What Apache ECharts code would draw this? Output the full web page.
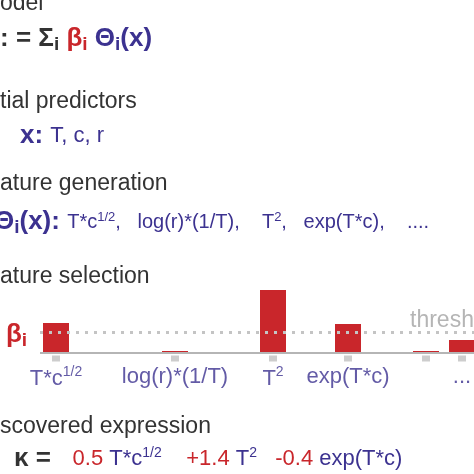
<!DOCTYPE html>
<html><head><meta charset="utf-8">
<script src="https://cdn.jsdelivr.net/npm/echarts@6/dist/echarts.min.js"></script>
<style>html,body{margin:0;padding:0;background:#fff}#c{width:474px;height:474px}</style>
</head><body><div id="c"></div>
<script>
const featureNames = ['T*c{s|1/2}', 'log(r)*(1/T)', 'T{s|2}', 'exp(T*c)', '', '...'];
const featurePos = [56, 175, 273, 348, 426, 462];
const coefValues = [30, 2, 63, 29, 2, 13];
const threshold = 21;

const RED = '#c9262b', PUR = '#3c3290', DARK = '#333333', GRAY = '#b5b5b5';
const chart = echarts.init(document.getElementById('c'));
const F = 'Liberation Sans, Arial, sans-serif';
function t(x, y, rich, text) {
  return {type: 'text', left: x, top: y, style: {text, rich, font: '23px ' + F, fill: DARK}};
}
const R = {
  h: {fontSize: 23, fill: DARK, fontFamily: F},
  b: {fontSize: 26, fontWeight: 'bold', fill: DARK, fontFamily: F},
  bi: {fontSize: 19, fontWeight: 'bold', fill: DARK, fontFamily: F, padding: [12, 0, 0, 0]},
  rb: {fontSize: 26, fontWeight: 'bold', fill: RED, fontFamily: F},
  rbi: {fontSize: 19, fontWeight: 'bold', fill: RED, fontFamily: F, padding: [12, 0, 0, 0]},
  pb: {fontSize: 26, fontWeight: 'bold', fill: PUR, fontFamily: F},
  pbi: {fontSize: 19, fontWeight: 'bold', fill: PUR, fontFamily: F, padding: [12, 0, 0, 0]},
  p: {fontSize: 20, fill: PUR, fontFamily: F},
  ps: {fontSize: 13, fill: PUR, fontFamily: F, padding: [0, 0, 10, 0]},
  pl: {fontSize: 22, fill: PUR, fontFamily: F},
  pls: {fontSize: 14, fill: PUR, fontFamily: F, padding: [0, 0, 12, 0]},
  r: {fontSize: 22, fill: RED, fontFamily: F}
};
chart.setOption({
  animation: false,
  grid: {left: 0, right: 0, top: 283, bottom: 111},
  xAxis: {type: 'value', min: 0, max: 474, show: false},
  yAxis: {type: 'value', min: -10, max: 70, show: false},
  graphic: [
    t(0, -8, R, '{h|odel}'),
    t(0, 26, R, '{b|: = Σ}{bi|i}{rb| β}{rbi|i}{pb| Θ}{pbi|i}{pb|(x)}'),
    t(0, 90, R, '{h|tial predictors}'),
    t(20, 123, R, '{pb|x: }{pl|T, c, r}'),
    t(0, 172, R, '{h|ature generation}'),
    t(-6, 209, R, '{pb|Θ}{pbi|i}{pb|(x): }{p|T*c}{ps|1/2}{p|,   log(r)*(1/T),    T}{ps|2}{p|,   exp(T*c),    ....}'),
    t(0, 265, R, '{h|ature selection}'),
    t(6, 322, R, '{rb|β}{rbi|i}'),
    {type: 'text', left: 410, top: 309, style: {text: 'thresh', font: '23px ' + F, fill: GRAY}},
    t(0, 415, R, '{h|scovered expression}'),
    t(14, 446, R, '{b|κ =   }{r|0.5 }{pl|T*c}{pls|1/2}{r|    +1.4 }{pl|T}{pls|2}{r|   -0.4 }{pl|exp(T*c)}')
  ],
  series: [
    {
      type: 'bar', barWidth: 26, itemStyle: {color: RED},
      data: coefValues.map((v, i) => [featurePos[i], v]),
      markLine: {
        silent: true, symbol: 'none', label: {show: false},
        data: [
          [{coord: [40, threshold], lineStyle: {color: '#c4c4c4', type: [3, 6], width: 3}}, {coord: [474, threshold]}],
          [{coord: [40, 0], lineStyle: {color: GRAY, type: 'solid', width: 2}}, {coord: [474, 0]}]
        ]
      },
      z: 3
    },
    {
      type: 'scatter', symbol: 'rect', symbolSize: [8, 6], itemStyle: {color: '#c0c0c0'},
      data: featurePos.map(x => [x, -5.5]),
      label: {
        show: true, position: 'bottom', distance: 4,
        formatter: p => featureNames[p.dataIndex],
        rich: {s: {fontSize: 14, color: PUR, fontFamily: F, padding: [0, 0, 12, 0]}},
        fontSize: 22, color: PUR, fontFamily: F
      }
    }
  ]
});
</script></body></html>
